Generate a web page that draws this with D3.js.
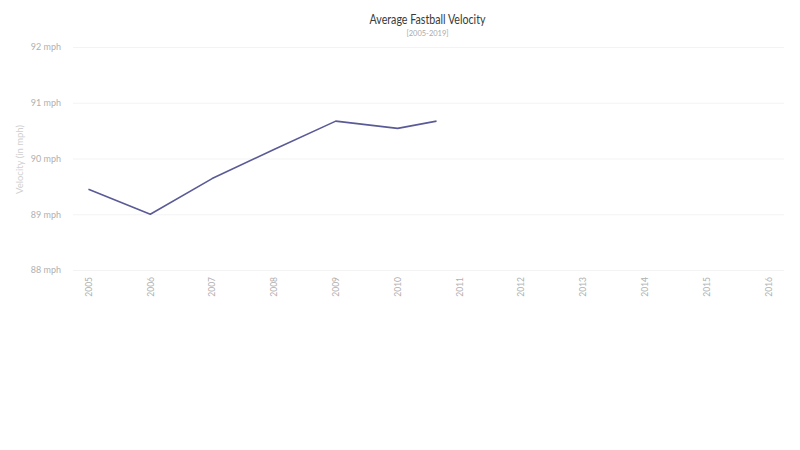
<!DOCTYPE html>
<html>
<head>
<meta charset="utf-8">
<script src="https://cdn.jsdelivr.net/npm/d3@7"></script>
<style>
  html, body { margin: 0; padding: 0; background: #fff; }
  svg { display: block; font-family: "Source Sans Pro", Lato, "Open Sans", sans-serif; }
</style>
</head>
<body>
<svg id="chart" width="800" height="450"></svg>
<script>
// ---- data ----
const years = [2005, 2006, 2007, 2008, 2009, 2010, 2010.63];
const velocity = [89.45, 89.00, 89.64, 90.16, 90.67, 90.54, 90.67];
const xTickYears = [2005, 2006, 2007, 2008, 2009, 2010, 2011, 2012, 2013, 2014, 2015, 2016];
const yTickValues = [88, 89, 90, 91, 92];
const titleText = "Average Fastball Velocity";
const subtitleText = "[2005-2019]";
const yAxisTitle = "Velocity (in mph)";

(function () {
  const svg = d3.select("#chart");
  const mLeft = 73, mRight = 784, mTop = 47, mBottom = 270;

  const x = d3.scaleLinear().domain([2004.75, 2016.25]).range([mLeft, mRight]);
  const y = d3.scaleLinear().domain([88, 92]).range([mBottom, mTop]);

  // title
  svg.append("text")
    .attr("x", (mLeft + mRight) / 2 - 1).attr("y", 24)
    .attr("text-anchor", "middle")
    .attr("font-size", 12.5).attr("fill", "#3a3a3a")
    .attr("font-family", "Lato, 'Open Sans', sans-serif")
    .attr("textLength", 116).attr("lengthAdjust", "spacingAndGlyphs")
    .text(titleText);
  svg.append("text")
    .attr("x", (mLeft + mRight) / 2 - 1).attr("y", 36)
    .attr("text-anchor", "middle")
    .attr("font-size", 7.5).attr("fill", "#aaa")
    .text(subtitleText);

  // gridlines + y labels
  const yAxis = d3.axisLeft(y).tickValues(yTickValues).tickSize(-(mRight - mLeft)).tickPadding(12)
    .tickFormat(d => d + " mph");
  const gy = svg.append("g").attr("transform", `translate(${mLeft},0)`).call(yAxis);
  gy.select(".domain").remove();
  gy.selectAll(".tick line").attr("stroke", "#f3f3f3");
  gy.selectAll(".tick text").attr("fill", "#b0b0b0").attr("font-size", 9)
    .attr("font-family", "Source Sans Pro, Lato, Open Sans, sans-serif");

  // x axis
  const xAxis = d3.axisBottom(x).tickValues(xTickYears).tickSize(0).tickFormat(d3.format("d"));
  const gx = svg.append("g").attr("transform", `translate(0,${mBottom})`).call(xAxis);
  gx.select(".domain").remove();
  gx.selectAll(".tick text")
    .attr("transform", "rotate(-90)")
    .attr("text-anchor", "end")
    .attr("x", -7).attr("y", 0).attr("dy", "0.32em")
    .attr("fill", "#b0b0b0").attr("font-size", 8.5)
    .attr("font-family", "Source Sans Pro, Lato, Open Sans, sans-serif");

  // y axis title
  svg.append("text")
    .attr("transform", `translate(23,${(mTop + mBottom) / 2 + 1}) rotate(-90)`)
    .attr("text-anchor", "middle")
    .attr("font-size", 9.5).attr("fill", "#d0d0d0")
    .text(yAxisTitle);

  // line
  const pts = years.map((yr, i) => [yr, velocity[i]]);
  const line = d3.line().x(d => x(d[0])).y(d => y(d[1]));
  svg.append("path")
    .datum(pts)
    .attr("d", line)
    .attr("fill", "none")
    .attr("stroke", "#5a5a97")
    .attr("stroke-width", 1.6)
    .attr("stroke-linejoin", "round");
})();
</script>
</body>
</html>
